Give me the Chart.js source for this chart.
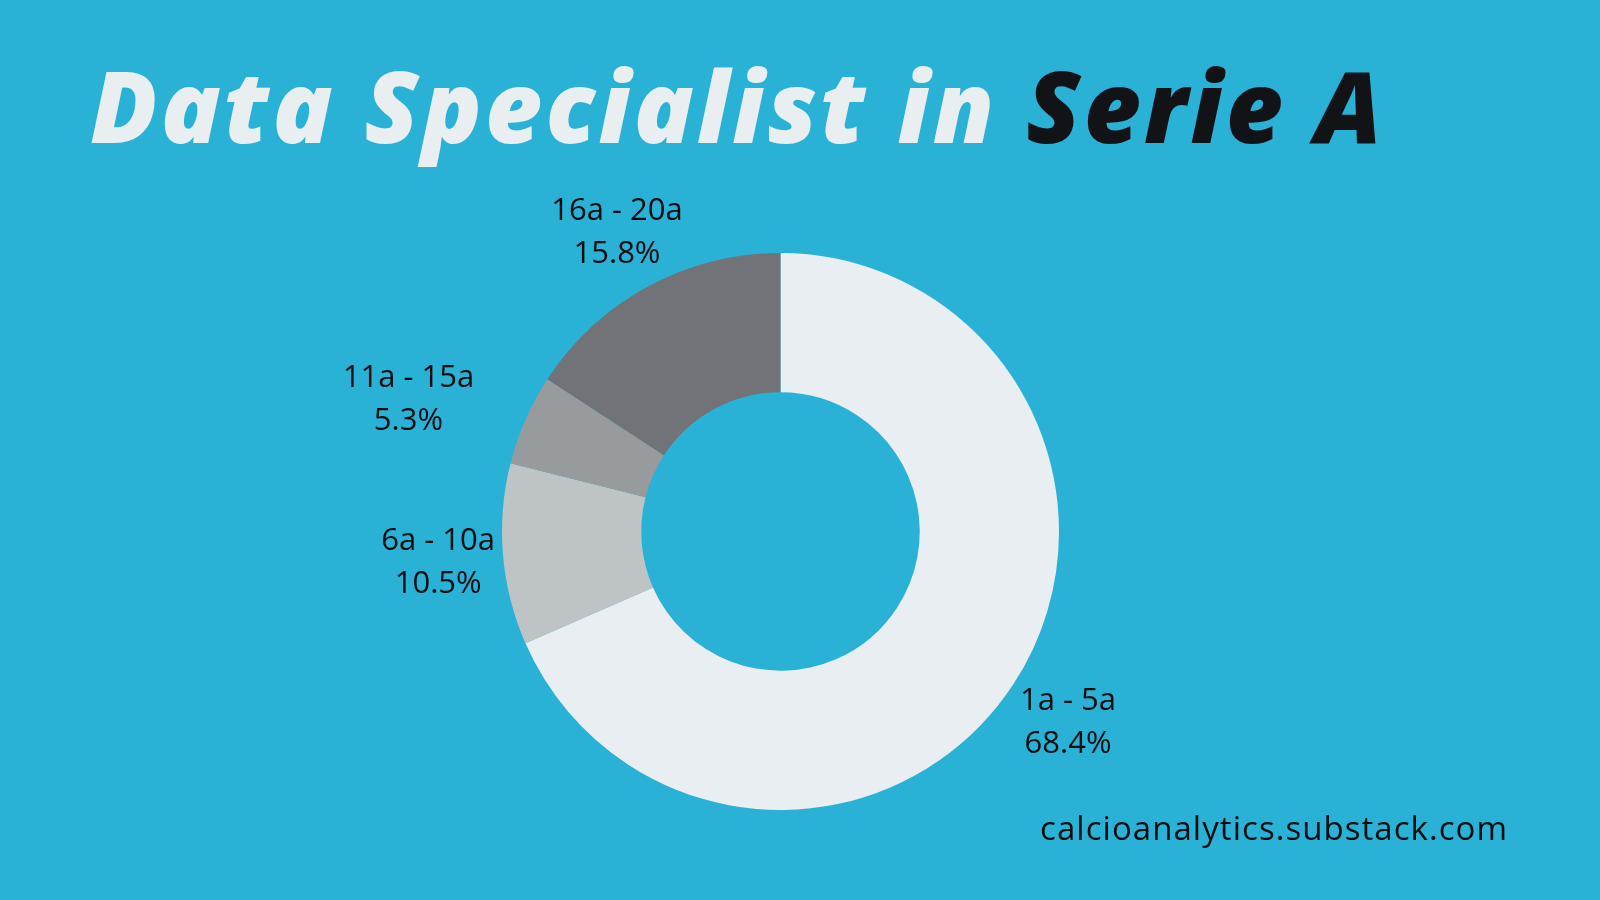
<!DOCTYPE html>
<html>
<head>
<meta charset="utf-8">
<script src="https://cdn.jsdelivr.net/npm/chart.js@4"></script>
<style>
  html, body { margin: 0; padding: 0; background: #29b2d6; }
  #wrap { position: relative; width: 1600px; height: 900px; overflow: hidden; }
  #title {
    position: absolute; left: 90px; top: 40px; white-space: nowrap;
    font-family: 'Open Sans', sans-serif; font-weight: 800; font-style: italic;
    font-size: 99px; line-height: 1; color: #e9eef1;
  }
  #title .dark { color: #121317; }
  #site {
    position: absolute; right: 92px; top: 811px; white-space: nowrap;
    font-family: 'Open Sans', sans-serif; font-size: 33px; line-height: 1; color: #0d0d0f;
  }
  canvas { position: absolute; left: 0; top: 0; }
</style>
</head>
<body>
<div id="wrap">
  <canvas id="donut" width="1600" height="900"></canvas>
  <div id="title">Data Specialist in <span class="dark">Serie A</span></div>
  <div id="site">calcioanalytics.substack.com</div>
</div>
<script>
// ---------- Data ----------
const CATEGORIES = ['1a - 5a', '6a - 10a', '11a - 15a', '16a - 20a'];
const COUNTS = [13, 2, 1, 3];
const PCT_LABELS = ['68.4%', '10.5%', '5.3%', '15.8%'];
const SLICE_COLORS = ['#e8eef1', '#bec3c6', '#979b9e', '#717378'];

// stretch a text block to the width it has in the reference, via letter spacing
function fitWidth(el, target) {
  const w = el.getBoundingClientRect().width;
  const n = el.textContent.length;
  el.style.letterSpacing = ((target - w) / n).toFixed(2) + 'px';
}

const title = document.getElementById('title');
fitWidth(title, 1295);
title.style.top = (143 - 99 * 0.89) + 'px'; // baseline near y=143
fitWidth(document.getElementById('site'), 468);

// labels outside the ring, two lines each
const outsideLabels = {
  id: 'outsideLabels',
  afterDatasetsDraw(chart, args, opts) {
    const ctx = chart.ctx;
    const meta = chart.getDatasetMeta(0);
    ctx.save();
    ctx.font = opts.font;
    ctx.fillStyle = opts.color;
    ctx.textAlign = 'center';
    ctx.textBaseline = 'middle';
    meta.data.forEach((arc, i) => {
      const mid = (arc.startAngle + arc.endAngle) / 2;
      const r = arc.outerRadius + (opts.extra[i] || opts.gap);
      const nudge = opts.nudge[i] || [0, 0];
      const x = arc.x + Math.cos(mid) * r + nudge[0];
      const y = arc.y + Math.sin(mid) * r + nudge[1] + opts.shiftY;
      ctx.fillText(CATEGORIES[i], x, y - opts.lineGap / 2);
      ctx.fillText(PCT_LABELS[i], x, y + opts.lineGap / 2);
    });
    ctx.restore();
  }
};

new Chart(document.getElementById('donut'), {
  type: 'doughnut',
  data: {
    labels: CATEGORIES,
    datasets: [{
      data: COUNTS,
      backgroundColor: SLICE_COLORS,
      borderWidth: 0,
      hoverOffset: 0
    }]
  },
  options: {
    responsive: false,
    animation: false,
    cutout: '50%',
    layout: { padding: { top: 253, bottom: 90, left: 0, right: 39 } },
    plugins: {
      legend: { display: false },
      tooltip: { enabled: false },
      outsideLabels: {
        font: '31px "Open Sans", sans-serif',
        color: '#0d0d0f',
        gap: 65,
        lineGap: 43,
        shiftY: 3,
        extra: { 2: 118 },
        nudge: { 2: [-9, 24] }
      }
    }
  },
  plugins: [outsideLabels]
});
</script>
</body>
</html>
